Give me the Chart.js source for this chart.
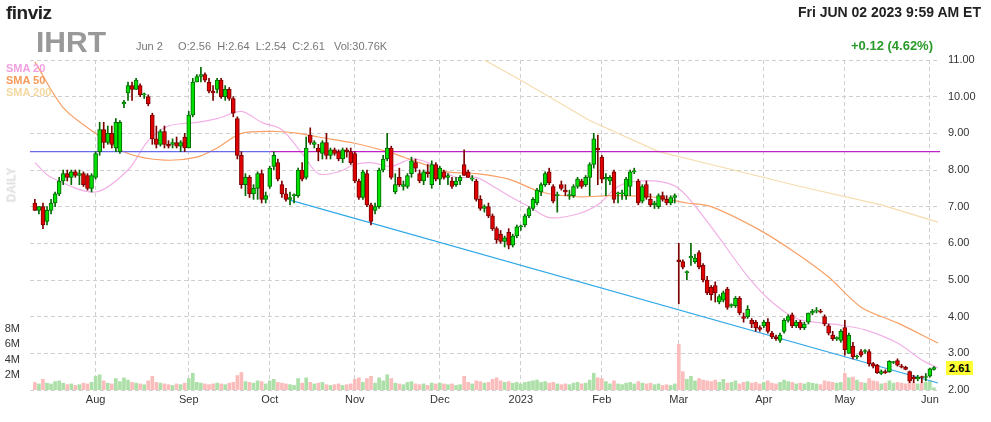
<!DOCTYPE html>
<html>
<head>
<meta charset="utf-8">
<script src="https://cdn.jsdelivr.net/npm/chart.js@4"></script>
<style>
body{margin:0;background:#fff;font-family:Arial,"Liberation Sans",sans-serif}
#wrap{position:relative;width:991px;height:422px}
canvas{position:absolute;left:0;top:0}
.t{position:absolute;white-space:nowrap}
</style>
</head>
<body>
<div id="wrap">
<canvas id="c" width="991" height="422"></canvas>
<div class="t" style="left:6px;top:2px;font-size:19px;font-weight:bold;color:#222;letter-spacing:-0.5px">finviz</div>
<div class="t" style="right:10px;top:4px;font-size:14px;font-weight:bold;color:#222">Fri JUN 02 2023 9:59 AM ET</div>
<div class="t" style="left:36px;top:25px;font-size:30px;font-weight:bold;color:#999">IHRT</div>
<div class="t" style="left:136px;top:40px;font-size:11px;color:#777">Jun 2</div>
<div class="t" style="left:178px;top:40px;font-size:11px;color:#777">O:2.56 &nbsp;H:2.64 &nbsp;L:2.54 &nbsp;C:2.61 &nbsp;&nbsp;Vol:30.76K</div>
<div class="t" style="right:58px;top:38px;font-size:13px;font-weight:bold;color:#2a9a2a">+0.12 (4.62%)</div>
<div class="t" style="left:6px;top:62px;font-size:11px;font-weight:bold;color:#f0a0e0">SMA 20</div>
<div class="t" style="left:6px;top:74px;font-size:11px;font-weight:bold;color:#f89a5a">SMA 50</div>
<div class="t" style="left:6px;top:86px;font-size:11px;font-weight:bold;color:#f4d8a0">SMA 200</div>
<div class="t" style="left:-6px;top:178px;font-size:12px;font-weight:bold;color:#ddd;transform:rotate(-90deg)">DAILY</div>
<div class="t" style="left:946px;top:361px;font-size:11px;font-weight:bold;background:#ffff33;color:#000;padding:1px 3px">2.61</div>
</div>
<script>
// daily candles, Jul 2022 .. Jun 2 2023
const opens=[
7.1,6.9,7.0,6.6,6.9,7.1,7.35,7.7,7.9,7.8,7.95,7.85,7.9,7.85,7.5,
7.8,8.5,9.1,8.75,9.0,8.6,8.5,9.8,10.1,10.3,10.2,10.3,10.05,10.0,9.5,8.85,8.7,9.05,8.7,8.7,8.75,8.65,8.9,
8.6,9.5,10.4,10.55,10.6,10.4,10.15,10.2,10.45,10.0,10.2,9.95,9.4,8.4,7.6,7.8,7.35,7.5,7.9,7.2,
7.55,8.1,8.2,7.6,7.35,7.2,7.3,7.3,8.0,7.8,8.95,8.7,8.6,8.45,8.75,8.4,8.55,8.5,8.3,8.55,8.5,
8.45,7.7,7.25,7.9,7.05,6.9,7.0,8.0,8.3,8.6,7.4,7.8,7.55,7.55,7.9,8.2,7.9,7.7,7.95,7.6,8.15,
7.75,7.95,7.8,7.7,7.6,7.7,8.15,7.95,7.75,7.7,7.2,6.95,7.0,6.75,6.4,6.25,6.05,6.3,5.95,6.2,
6.45,6.5,6.75,6.95,7.1,7.4,7.6,7.95,7.55,7.3,7.6,7.45,7.3,7.3,7.55,7.7,7.6,7.8,8.15,8.6,
8.35,7.75,7.7,7.95,7.35,7.35,7.3,7.55,7.95,7.7,7.15,7.6,7.2,7.05,7.0,7.3,7.2,7.1,7.25,
5.55,5.5,5.2,5.6,5.5,5.75,5.4,5.0,4.8,4.85,4.4,4.45,4.75,4.3,4.3,4.5,4.0,4.0,3.9,3.85,3.7,
3.75,3.85,3.55,3.45,3.35,3.6,3.9,4.05,3.75,3.85,3.7,3.85,4.1,4.15,4.15,4.0,3.75,3.5,3.4,3.35,
3.7,3.0,3.2,2.9,3.05,3.05,3.05,2.72,2.68,2.45,2.5,2.5,2.75,2.8,2.65,2.62,2.5,2.35,2.3,2.35,2.34,
2.38,2.56];
const highs=[
7.2,7.0,7.1,7.0,7.2,7.4,7.8,8.0,8.0,8.0,8.0,8.0,7.95,7.9,7.9,
8.5,9.3,9.3,9.2,9.2,9.4,9.35,9.9,10.4,10.4,10.5,10.35,10.1,10.05,9.55,9.2,9.1,9.2,8.8,8.85,8.9,8.8,9.0,
9.6,10.5,10.6,10.8,10.65,10.5,10.3,10.5,10.5,10.3,10.25,10.0,9.45,8.5,7.9,7.85,7.6,7.95,8.0,7.4,
8.1,8.5,8.3,7.7,7.5,7.4,7.35,8.05,8.2,8.9,9.15,8.8,8.7,8.8,9.0,8.6,8.6,8.55,8.6,8.6,8.6,
8.5,7.75,8.0,8.0,7.1,7.1,8.05,8.4,9.0,8.65,7.9,8.05,7.7,7.9,8.35,8.3,8.0,8.0,8.15,8.25,8.2,
8.1,8.0,7.9,7.8,7.8,7.85,8.55,8.0,7.85,7.75,7.3,7.05,7.1,6.8,6.45,6.35,6.2,6.4,6.25,6.5,
6.5,6.8,7.0,7.25,7.5,7.65,7.95,8.05,7.6,7.4,7.7,7.6,7.45,7.6,7.8,7.75,7.85,8.2,9.0,8.95,
8.4,7.9,7.85,8.0,7.4,7.45,7.8,8.0,8.05,7.75,7.6,7.7,7.35,7.15,7.35,7.4,7.3,7.3,7.35,
6.0,5.55,5.25,6.0,5.7,5.8,5.45,5.1,4.85,4.95,4.6,4.7,4.8,4.35,4.55,4.55,4.1,4.3,3.95,3.9,3.75,
3.9,3.95,3.6,3.5,3.55,3.95,4.05,4.1,3.9,3.9,3.85,4.1,4.2,4.25,4.2,4.05,3.8,3.6,3.45,3.65,
3.9,3.55,3.3,2.95,3.1,3.1,3.1,2.75,2.7,2.55,2.55,2.8,2.78,2.85,2.7,2.65,2.52,2.4,2.4,2.38,2.45,
2.6,2.64];
const lows=[
6.9,6.8,6.4,6.5,6.8,7.0,7.3,7.6,7.7,7.6,7.8,7.6,7.55,7.45,7.4,
7.75,8.4,8.6,8.7,8.6,8.5,8.45,9.7,9.9,9.9,10.2,10.0,9.95,9.75,8.7,8.6,8.65,8.6,8.6,8.6,8.6,8.5,8.5,
8.6,9.45,10.4,10.4,10.4,10.1,9.9,10.1,9.95,9.9,9.9,9.45,8.3,7.5,7.3,7.25,7.2,7.2,7.1,7.1,
7.5,8.0,7.7,7.25,7.15,7.05,7.1,7.25,7.7,7.75,8.7,8.6,8.25,8.3,8.3,8.3,8.4,8.25,8.2,8.35,8.15,
7.65,7.2,7.2,7.0,6.5,6.8,6.95,7.95,8.25,7.75,7.35,7.55,7.45,7.5,7.8,7.95,7.65,7.6,7.8,7.5,7.7,
7.6,7.75,7.6,7.5,7.55,7.6,7.85,7.8,7.7,7.15,6.9,6.85,6.7,6.35,6.0,6.0,5.9,5.85,5.9,6.15,
6.35,6.45,6.7,6.9,7.05,7.3,7.55,7.6,7.1,6.85,7.45,7.3,7.2,7.25,7.5,7.5,7.55,7.3,8.05,7.6,
7.65,7.3,7.6,7.1,7.1,7.2,7.2,7.3,7.9,7.05,7.1,7.2,7.0,6.95,6.95,7.15,7.05,7.05,7.1,
4.35,5.3,5.0,5.4,5.45,5.3,4.95,4.6,4.45,4.4,4.35,4.4,4.2,4.25,4.25,4.05,3.85,3.95,3.7,3.6,3.6,
3.7,3.55,3.4,3.35,3.3,3.55,3.85,3.7,3.7,3.65,3.65,3.8,4.05,4.1,4.1,3.75,3.5,3.35,3.35,3.3,
2.95,3.0,2.85,2.85,2.9,3.0,2.65,2.6,2.45,2.42,2.45,2.48,2.72,2.65,2.6,2.55,2.2,2.2,2.25,2.2,2.25,
2.35,2.54];
const closes=[
6.9,7.0,6.5,6.9,7.1,7.35,7.7,7.9,7.8,7.95,7.85,7.9,7.6,7.5,7.85,
8.45,9.1,8.75,9.0,8.7,9.3,9.3,9.85,10.3,10.2,10.45,10.05,10.05,9.8,8.85,8.7,9.05,8.7,8.65,8.75,8.65,8.75,8.6,
9.5,10.4,10.55,10.6,10.45,10.15,10.1,10.45,10.0,10.2,9.95,9.55,8.4,7.6,7.8,7.35,7.5,7.9,7.2,7.3,
8.05,8.4,7.75,7.35,7.2,7.25,7.3,8.0,7.75,8.6,8.75,8.75,8.5,8.75,8.4,8.55,8.45,8.3,8.55,8.5,8.2,
7.7,7.25,7.95,7.05,6.6,7.0,8.0,8.3,8.6,7.8,7.6,7.6,7.6,7.85,8.25,8.05,7.7,7.95,7.9,8.15,7.75,
8.05,7.8,7.85,7.55,7.7,7.8,7.85,7.8,7.75,7.2,6.95,7.0,6.75,6.4,6.1,6.05,6.15,5.95,6.2,6.45,
6.45,6.75,6.95,7.2,7.45,7.6,7.9,7.65,7.15,7.3,7.5,7.4,7.3,7.55,7.75,7.55,7.8,8.15,8.85,8.55,
7.75,7.8,7.8,7.2,7.35,7.35,7.75,7.95,7.95,7.1,7.55,7.25,7.05,7.1,7.3,7.2,7.1,7.25,7.3,
5.5,5.35,5.2,5.65,5.6,5.35,5.0,4.65,4.6,4.65,4.55,4.65,4.25,4.3,4.5,4.1,3.95,4.2,3.8,3.7,3.65,
3.85,3.6,3.45,3.4,3.5,3.9,4.0,3.75,3.85,3.7,3.8,4.1,4.15,4.15,4.12,3.8,3.55,3.4,3.4,3.6,
3.1,3.5,2.9,2.9,2.95,3.05,2.72,2.65,2.47,2.5,2.47,2.78,2.75,2.68,2.62,2.56,2.25,2.3,2.35,2.34,2.36,
2.58,2.61];
// volume in millions
const volumes=[
1.0,0.8,1.4,0.9,0.8,1.1,1.2,0.9,0.7,0.8,0.6,0.7,0.9,0.8,1.0,
1.8,2.0,1.2,0.9,0.8,1.5,1.1,1.6,1.3,1.0,0.9,0.8,0.7,1.2,1.8,1.0,0.9,0.8,0.7,0.6,0.8,0.7,0.9,
1.5,2.2,1.0,0.9,0.8,0.7,0.8,0.9,0.8,0.7,0.9,1.0,1.9,2.3,1.1,1.0,0.9,1.2,1.1,0.8,
1.2,1.4,1.0,0.9,0.8,0.7,0.6,1.5,0.9,1.6,1.0,0.8,0.9,1.0,0.7,0.6,0.7,0.8,0.6,0.7,0.8,
1.4,1.6,1.0,1.5,1.8,0.9,1.6,1.2,2.0,1.5,0.9,0.8,0.7,1.0,1.1,0.8,0.7,0.8,0.6,0.9,0.8,
0.9,0.8,0.7,0.8,0.6,0.7,1.8,1.0,0.8,1.2,1.1,0.9,1.0,1.4,1.6,1.2,1.0,1.1,0.9,1.0,
0.8,1.0,1.1,1.2,1.3,1.0,1.1,0.9,1.0,0.8,0.7,0.8,0.7,0.9,1.0,0.8,0.9,1.3,2.2,1.6,
1.5,1.1,0.8,1.2,0.8,0.7,0.9,1.0,0.8,1.1,0.9,0.8,0.9,0.7,0.8,0.6,0.7,0.6,0.8,
6.0,2.4,1.4,1.8,1.2,1.5,1.3,1.2,1.1,1.3,1.0,1.4,0.9,1.0,1.2,0.8,1.0,1.1,0.9,1.0,0.8,
1.0,1.2,0.9,0.8,1.0,1.3,1.1,1.0,0.8,0.9,0.8,1.0,0.9,0.8,0.7,1.2,1.1,1.0,0.9,1.0,
2.2,1.6,1.7,1.3,1.0,0.9,1.5,1.2,1.1,0.8,0.9,1.2,0.9,1.0,0.9,0.8,1.1,0.9,0.8,0.9,1.0,
1.2,0.3];
const monthIdx=[15,38,58,79,100,120,140,159,180,200,221];
const monthLabels=["Aug","Sep","Oct","Nov","Dec","2023","Feb","Mar","Apr","May","Jun"];
const priceTicks=[2,3,4,5,6,7,8,9,10,11];
const volTicks=[2,4,6,8];
// moving averages: [candle index, price]
const sma20=[[0,8.2],[4,7.8],[15,7.4],[23,8.0],[28,8.8],[33,9.2],[40,9.3],[45,9.4],[51,9.6],[56,9.3],[61,9.1],[66,8.45],[70,7.9],[75,7.95],[79,8.15],[83,8.2],[88,8.1],[93,8.3],[97,8.2],[104,7.8],[109,7.8],[114,7.5],[117,7.3],[122,7.0],[127,6.7],[134,6.8],[139,7.05],[144,7.55],[149,7.7],[156,7.65],[160,7.4],[167,6.45],[176,5.1],[182,4.4],[188,3.95],[194,3.83],[199,3.77],[205,3.64],[213,3.28],[219,2.82],[223,2.6]];
const sma50=[[0,10.95],[7,9.7],[15,9.0],[23,8.45],[32,8.27],[40,8.35],[45,8.6],[51,9.0],[60,9.05],[65,9.0],[70,8.9],[79,8.73],[87,8.5],[95,8.2],[102,7.95],[109,7.9],[117,7.75],[125,7.4],[134,7.27],[142,7.3],[152,7.27],[161,7.1],[167,7.0],[179,6.36],[188,5.73],[196,5.08],[204,4.26],[213,3.83],[223,3.28]];
const sma200=[[111,11.0],[120,10.45],[137,9.35],[154,8.5],[167,8.15],[189,7.55],[209,7.05],[223,6.58]];
const hLevel=8.5;
const trend=[[63,7.18],[223,2.19]];

const idx=opens.map((_,i)=>i);
const up=idx.map(i=>closes[i]>=opens[i]);
const pts=a=>a.map(p=>({x:p[0],y:p[1]}));

new Chart(document.getElementById("c"),{
type:"bar",
data:{datasets:[
{type:"line",data:pts(sma200),borderColor:"#f6dcae",borderWidth:1.2,pointRadius:0,yAxisID:"y",order:5},
{type:"line",data:pts(sma50),borderColor:"#f9a066",borderWidth:1.2,pointRadius:0,yAxisID:"y",order:5,tension:0.3},
{type:"line",data:pts(sma20),borderColor:"#f2b0e6",borderWidth:1.2,pointRadius:0,yAxisID:"y",order:5,tension:0.3},
{type:"line",data:[{x:-2,y:hLevel},{x:58,y:hLevel}],borderColor:"#6a6aee",borderWidth:1.2,pointRadius:0,yAxisID:"y",order:4},
{type:"line",data:[{x:58,y:hLevel},{x:224,y:hLevel}],borderColor:"#c020c8",borderWidth:1.2,pointRadius:0,yAxisID:"y",order:4},
{type:"line",data:pts(trend),borderColor:"#30a8e8",borderWidth:1.2,pointRadius:0,yAxisID:"y",order:4},
{data:idx.map(i=>({x:i,y:volumes[i]})),backgroundColor:idx.map(i=>up[i]?"#ade0a8":"#fbbcbc"),barThickness:3,yAxisID:"v",order:6},
{data:idx.map(i=>({x:i,y:[lows[i],highs[i]]})),backgroundColor:idx.map(i=>up[i]?"#006a00":"#7a0000"),barThickness:1,yAxisID:"y",order:2},
{data:idx.map(i=>({x:i,y:[opens[i],closes[i]]})),backgroundColor:idx.map(i=>up[i]?"#00e000":"#e00000"),borderColor:idx.map(i=>up[i]?"#006a00":"#7a0000"),borderWidth:1,borderSkipped:false,minBarLength:1,barThickness:4,yAxisID:"y",order:1}
]},
options:{
responsive:false,animation:false,
datasets:{bar:{grouped:false}},
layout:{padding:{top:60,left:0,right:0,bottom:0}},
plugins:{legend:{display:false},tooltip:{enabled:false}},
scales:{
x:{type:"linear",min:-1.2,max:223.5,offset:false,
 afterBuildTicks:s=>{s.ticks=monthIdx.map(v=>({value:v}))},
 afterFit:s=>{s.height=32},
 ticks:{autoSkip:false,maxRotation:0,color:"#333",font:{size:11,family:"Arial"},callback:v=>monthLabels[monthIdx.indexOf(v)]},
 grid:{color:"#cfcfcf",drawTicks:false,offset:false},border:{display:true,color:"rgba(0,0,0,0)",dash:[4,3]}},
y:{position:"right",min:2,max:11,
 afterBuildTicks:s=>{s.ticks=priceTicks.map(v=>({value:v}))},
 afterFit:s=>{s.width=51},
 ticks:{color:"#333",font:{size:11,family:"Arial"},padding:8,callback:v=>v.toFixed(2)},
 grid:{color:"#cfcfcf",drawTicks:false},border:{display:true,color:"rgba(0,0,0,0)",dash:[4,3]}},
v:{position:"left",min:0,max:43.3,
 afterBuildTicks:s=>{s.ticks=volTicks.map(v=>({value:v}))},
 afterFit:s=>{s.width=30},
 ticks:{color:"#333",font:{size:11,family:"Arial"},padding:2,callback:v=>v+"M"},
 grid:{display:false},border:{display:false}}
}
}
});
</script>
</body>
</html>
